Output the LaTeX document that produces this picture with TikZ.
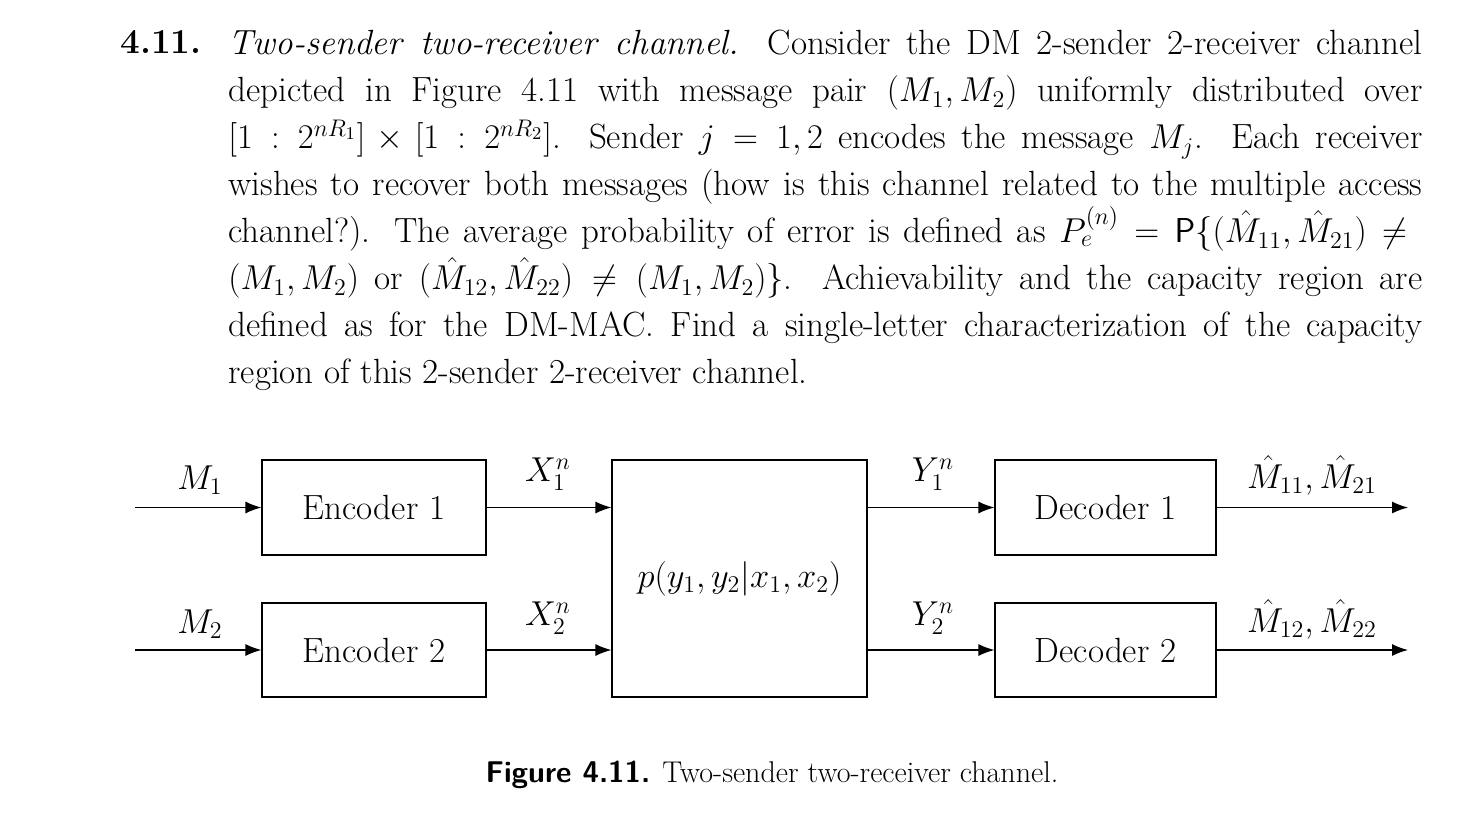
\documentclass[tikz,border=0pt]{standalone}
\usepackage{amsmath,amssymb}
\usetikzlibrary{arrows.meta}
\begin{document}
\begin{tikzpicture}[x=0.5pt,y=-0.5pt,
  box/.style={draw,line width=0.6pt,inner sep=0pt},
  lab/.style={font=\fontsize{17.5}{20}\selectfont},
  arr/.style={line width=0.6pt,-{Latex[length=8pt,width=6pt]}}]
\useasboundingbox (0,0) rectangle (1472,820);
\node[anchor=north west,inner sep=0pt,font=\fontsize{17.5}{23.5}\selectfont\bfseries] (num) at (120,30) {4.11.};
\node[anchor=north west,inner sep=0pt,text width=597pt,align=justify,font=\fontsize{17.5}{23.5}\selectfont] (par) at (228,30) {%
\textit{Two-sender two-receiver channel.} Consider the DM 2-sender 2-receiver channel\linebreak
depicted in Figure 4.11 with message pair $(M_1,M_2)$ uniformly distributed over\linebreak
$[1:2^{nR_1}]\times[1:2^{nR_2}]$. Sender $j=1,2$ encodes the message $M_j$. Each receiver\linebreak
wishes to recover both messages (how is this channel related to the multiple access\linebreak
channel?). The average probability of error is defined as $P_e^{(n)}=\mathsf{P}\{(\hat M_{11},\hat M_{21})\neq{}$\linebreak
$(M_1,M_2)$ or $(\hat M_{12},\hat M_{22})\neq(M_1,M_2)\}$. Achievability and the capacity region are\linebreak
defined as for the DM-MAC. Find a single-letter characterization of the capacity\linebreak
region of this 2-sender 2-receiver channel.\par};
\node[box,lab,minimum width=112pt,minimum height=47.5pt] (e1) at (374,507.5) {Encoder 1};
\node[box,lab,minimum width=112pt,minimum height=47pt] (e2) at (374,650) {Encoder 2};
\node[box,lab,minimum width=127.5pt,minimum height=118.5pt] (ch) at (739.5,578.5) {$p(y_1,y_2|x_1,x_2)$};
\node[box,lab,minimum width=110.5pt,minimum height=47.5pt] (d1) at (1105.5,507.5) {Decoder 1};
\node[box,lab,minimum width=110.5pt,minimum height=47pt] (d2) at (1105.5,650) {Decoder 2};
\coordinate (m1) at (135,507.5); \coordinate (m2) at (135,650);
\coordinate (o1) at (1408,507.5); \coordinate (o2) at (1408,650);
\draw[arr] (m1) -- (e1.west);
\draw[arr] (m2) -- (e2.west);
\draw[arr] (e1.east) -- (e1.east -| ch.west);
\draw[arr] (e2.east) -- (e2.east -| ch.west);
\draw[arr] (d1.west -| ch.east) -- (d1.west);
\draw[arr] (d2.west -| ch.east) -- (d2.west);
\draw[arr] (d1.east) -- (o1);
\draw[arr] (d2.east) -- (o2);
\node[lab] (l1) at (200,480) {$M_1$};
\node[lab] (l2) at (200,624) {$M_2$};
\node[lab] (l3) at (548,474) {$X_1^n$};
\node[lab] (l4) at (548,618) {$X_2^n$};
\node[lab] (l5) at (933,474) {$Y_1^n$};
\node[lab] (l6) at (933,618) {$Y_2^n$};
\node[lab] (l7) at (1312,475) {$\hat M_{11},\hat M_{21}$};
\node[lab] (l8) at (1312,619) {$\hat M_{12},\hat M_{22}$};
\node[font=\fontsize{15}{18}\selectfont] (cap) at (772,775) {\textsf{\textbf{Figure 4.11.}} Two-sender two-receiver channel.};
\end{tikzpicture}
\end{document}
